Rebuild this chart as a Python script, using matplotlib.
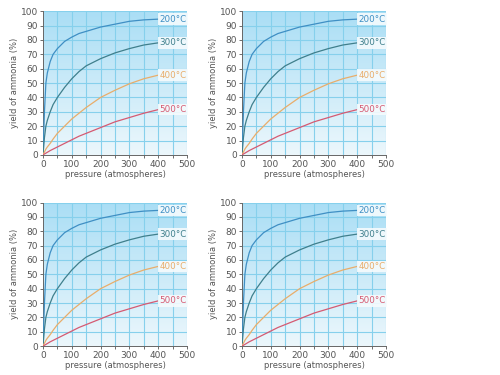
import numpy as np
import matplotlib
matplotlib.use("Agg")
import matplotlib.pyplot as plt
from matplotlib.colors import LinearSegmentedColormap

# pressure (atm) and yield (%)
pressure = [0, 5, 10, 15, 25, 35, 50, 75, 100, 125, 150, 200, 250, 300, 350, 400]
yield_200 = [0, 30, 50, 57, 65, 70, 74, 79, 82, 84.5, 86, 89, 91, 93, 94, 94.5]
yield_300 = [0, 12, 20, 24, 30, 35, 40, 47, 53, 58, 62, 67, 71, 74, 76.5, 78]
yield_400 = [0, 2, 4, 5.5, 8, 11, 15, 20, 25, 29, 33, 40, 45, 49.5, 53, 55.5]
yield_500 = [0, 0.6, 1.2, 1.8, 3, 4, 5.5, 8, 10.5, 13, 15, 19, 23, 26, 29, 31.5]

labels = ["200°C", "300°C", "400°C", "500°C"]
series = [yield_200, yield_300, yield_400, yield_500]
colors = ["#3f8fc4", "#3f7f8c", "#e9ad6a", "#d55a72"]

x_ticks = [0, 100, 200, 300, 400, 500]
y_ticks = list(range(0, 101, 10))

bg_cmap = LinearSegmentedColormap.from_list("bg", ["#ecf7fc", "#aadef5"])
grid_col = "#86d0ec"
text_col = "#555555"


def draw_panel(ax):
    grad = np.linspace(0, 1, 256).reshape(-1, 1)
    ax.imshow(grad, cmap=bg_cmap, origin="lower", aspect="auto",
              extent=[0, 500, 0, 100], zorder=0)
    for gx in range(50, 501, 50):
        ax.axvline(gx, color=grid_col, lw=0.8, zorder=1)
    for gy in range(10, 101, 10):
        ax.axhline(gy, color=grid_col, lw=0.8, zorder=1)

    for ys, lab, c in zip(series, labels, colors):
        ax.plot(pressure, ys, color=c, lw=0.9, zorder=3)
        ax.text(404, ys[-1], lab, color=c, fontsize=6.3, va="center", ha="left",
                zorder=4,
                bbox=dict(boxstyle="square,pad=0.15", fc="#f6fbfd", ec="none", alpha=0.9))

    ax.set_xlim(0, 500)
    ax.set_ylim(0, 100)
    ax.set_xticks(x_ticks)
    ax.set_xticks(range(0, 501, 50), minor=True)
    ax.set_yticks(y_ticks)
    ax.tick_params(labelsize=6.5, colors=text_col, length=2, width=0.6, pad=1.5)
    ax.tick_params(which="minor", length=2, width=0.6, color=text_col)
    for s in ["top", "right"]:
        ax.spines[s].set_visible(False)
    for s in ["left", "bottom"]:
        ax.spines[s].set_color("#666666")
        ax.spines[s].set_linewidth(0.7)
    ax.set_xlabel("pressure (atmospheres)", fontsize=6, color=text_col, labelpad=1)
    ax.set_ylabel("yield of ammonia (%)", fontsize=6, color=text_col, labelpad=1)


fig = plt.figure(figsize=(5, 3.75), dpi=100)
lefts = [0.086, 0.484]
bottoms = [0.587, 0.077]
for b in bottoms:
    for l in lefts:
        ax = fig.add_axes([l, b, 0.288, 0.383])
        draw_panel(ax)

fig.savefig("out.png", dpi=100)
